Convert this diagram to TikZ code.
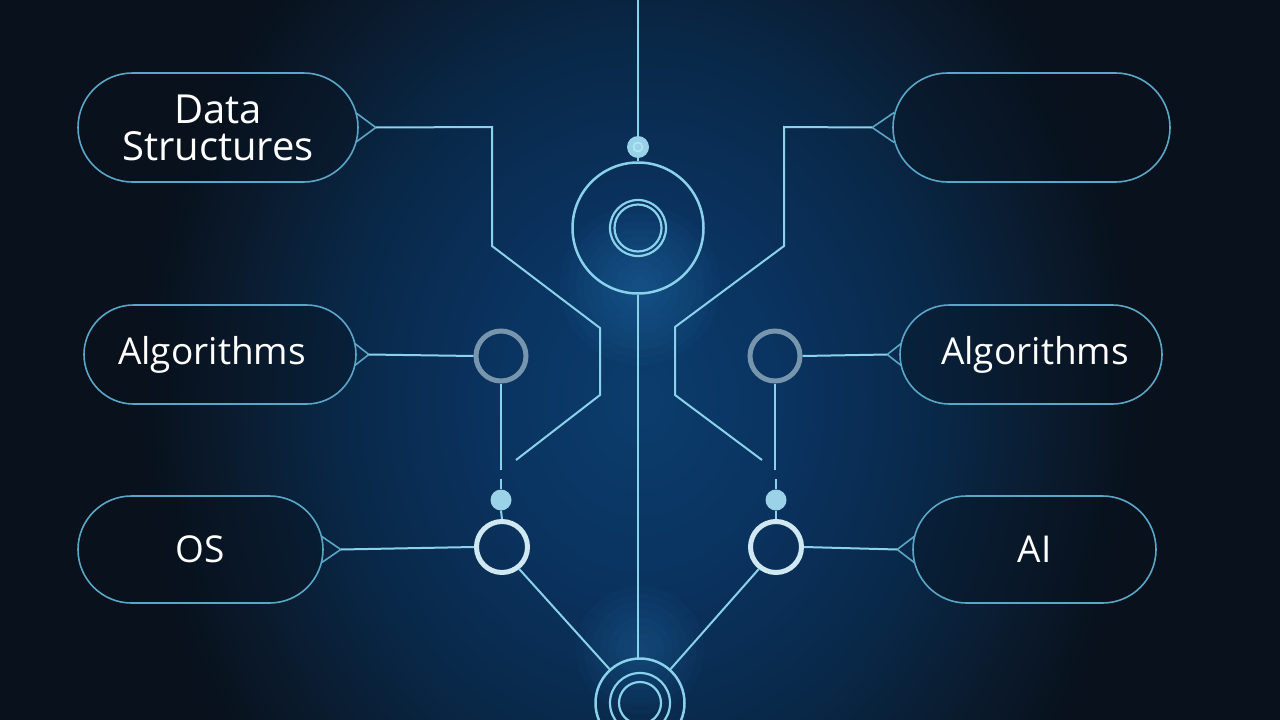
\documentclass[tikz,border=0pt]{standalone}
\usepackage{fontspec}
\setmainfont{Open Sans}
\usetikzlibrary{calc}
\definecolor{bgin}{HTML}{0B3D6C}
\definecolor{bgA}{HTML}{0A3360}
\definecolor{bgmid}{HTML}{092848}
\definecolor{bgout}{HTML}{0A1A2C}
\definecolor{bgfar}{HTML}{08111C}
\definecolor{wire}{HTML}{8AD2EC}
\definecolor{pillc}{HTML}{5AA6C6}
\definecolor{greyring}{HTML}{7895AE}
\definecolor{lightring}{HTML}{CFE8F2}
\definecolor{dotc}{HTML}{9CD2E8}
\definecolor{glowc}{HTML}{2A86C8}
\pgfdeclareradialshading{bgshade}{\pgfpoint{0bp}{0bp}}{color(0bp)=(bgin); color(7.5bp)=(bgA); color(15bp)=(bgmid); color(21bp)=(bgout); color(25bp)=(bgfar); color(50bp)=(bgfar)}
\begin{document}
\begin{tikzpicture}[x=1pt,y=-1pt,
  pill/.style={draw=pillc, fill=bgfar, fill opacity=0.35, text opacity=1, line width=1.6pt, text=white, align=center, inner sep=0pt,
    font=\fontsize{37}{37}\selectfont},
  wirel/.style={draw=wire, line width=2pt, line join=miter},
  notchl/.style={draw=pillc, line width=1.6pt, line join=miter},
  gring/.style={circle, draw=greyring, line width=5pt, inner sep=0pt, minimum size=50pt},
  lring/.style={circle, draw=lightring, line width=5pt, inner sep=0pt, minimum size=51pt},
  sdot/.style={circle, fill=dotc, inner sep=0pt, minimum size=21pt},
  hubring/.style={circle, draw=wire, line width=2.5pt, inner sep=0pt}]
\useasboundingbox (0,0) rectangle (1280,720);
\fill[bgfar] (0,0) rectangle (1280,720);
\shade[shading=bgshade] (140,-200) rectangle (1140,1000);
% glow
\foreach \r in {8,16,...,80} {\fill[glowc, opacity=0.045] (640,285) circle (\r);}
\foreach \r in {8,16,...,64} {\fill[glowc, opacity=0.045] (640,650) circle (\r);}

% pills
\node[pill, minimum width=280pt, minimum height=109pt, rounded corners=54.5pt, font=\fontsize{40}{37}\selectfont] (ds) at (218,127.5) {Data\\Structures};
\node[pill, minimum width=277pt, minimum height=109pt, rounded corners=54.5pt] (tr) at (1031.5,127.5) {};
\node[pill, minimum width=272pt, minimum height=99pt, rounded corners=49.5pt] (algL) at (220,354.5) {};
\node at (212,354.5) [text=white, font=\fontsize{37}{37}\selectfont] (algLt) {Algorithms};
\node[pill, minimum width=262pt, minimum height=99pt, rounded corners=49.5pt] (algR) at (1031,354.5) {};
\node at (1035,354.5) [text=white, font=\fontsize{37}{37}\selectfont] (algRt) {Algorithms};
\node[pill, minimum width=245pt, minimum height=107pt, rounded corners=53.5pt] (os) at (200.5,549.5) {OS};
\node[pill, minimum width=243pt, minimum height=107pt, rounded corners=53.5pt] (ai) at (1034.5,549.5) {AI};

% notches
\draw[notchl] ([shift={(-2,-14)}]ds.east) -- ([shift={(17,0)}]ds.east) coordinate (dsA) -- ([shift={(-2,14)}]ds.east);
\draw[notchl] ([shift={(2,-15)}]tr.west) -- ([shift={(-20,0)}]tr.west) coordinate (trA) -- ([shift={(2,15)}]tr.west);
\draw[notchl] ([shift={(-2,-11)}]algL.east) -- ([shift={(12,0)}]algL.east) coordinate (algLA) -- ([shift={(-2,11)}]algL.east);
\draw[notchl] ([shift={(2,-11)}]algR.west) -- ([shift={(-12,0)}]algR.west) coordinate (algRA) -- ([shift={(2,11)}]algR.west);
\draw[notchl] ([shift={(-2,-13)}]os.east) -- ([shift={(17,0)}]os.east) coordinate (osA) -- ([shift={(-2,13)}]os.east);
\draw[notchl] ([shift={(2,-13)}]ai.west) -- ([shift={(-15,0)}]ai.west) coordinate (aiA) -- ([shift={(2,13)}]ai.west);

% center column
\coordinate (top) at (638,0);
\node[circle, fill=dotc!80!wire, inner sep=0pt, minimum size=22pt] (hubdot) at (638,147) {};
\draw[wire!60!white, line width=1.5pt] (hubdot.center) circle (4.5);
\node[hubring, minimum size=131pt] (hub) at (638,228) {};
\draw[wire, line width=2.2pt] (hub.center) circle (28) circle (23.5);
\node[hubring, minimum size=89pt] (base) at (640,703) {};
\draw[wire, line width=2.2pt] (base.center) circle (30) circle (21);

\draw[wirel] (top) -- (hubdot.north);
\draw[wirel] (hubdot.south) -- (hub.north);
\draw[wirel] (hub.south) -- (638,658);

% left side
\node[gring] (cL) at (501,356) {};
\node[sdot] (dL) at (501,500) {};
\node[lring] (oL) at (502,547) {};
\coordinate (dsEnd) at (516,460);
\coordinate (cLEnd) at (501,470);
\coordinate (dLTop) at (501,479);
\draw[wirel] (dsA) -- (492,127) -- (492,246) -- (600,328) -- (600,395) -- (dsEnd);
\draw[wirel] (algLA) -- (cL.west);
\draw[wirel] (cL.south) -- (cLEnd);
\draw[wirel] (dLTop) -- (dL.north);
\draw[wirel] (dL.south) -- (oL.north);
\draw[wirel] (osA) -- (oL.west);
\draw[wirel] (oL.-52) -- (base.132);

% right side
\node[gring] (cR) at (775,356) {};
\node[sdot] (dR) at (776,500) {};
\node[lring] (oR) at (776,547) {};
\coordinate (trEnd) at (762,460);
\coordinate (cREnd) at (775,470);
\coordinate (dRTop) at (776,479);
\draw[wirel] (trA) -- (784,127) -- (784,246) -- (675,327) -- (675,395) -- (trEnd);
\draw[wirel] (algRA) -- (cR.east);
\draw[wirel] (cR.south) -- (cREnd);
\draw[wirel] (dRTop) -- (dR.north);
\draw[wirel] (dR.south) -- (oR.north);
\draw[wirel] (aiA) -- (oR.east);
\draw[wirel] (oR.-128) -- (base.48);
\end{tikzpicture}
\end{document}
